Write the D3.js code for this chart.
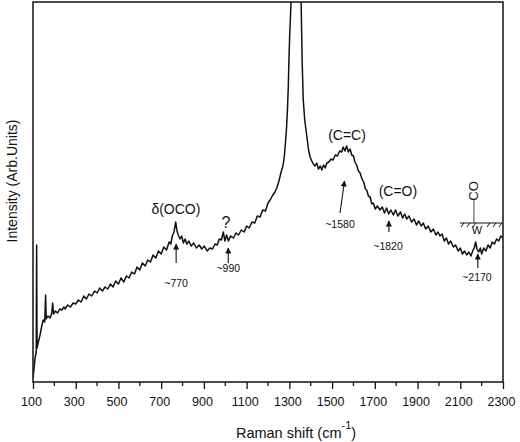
<!DOCTYPE html>
<html>
<head>
<meta charset="utf-8">
<script src="https://cdn.jsdelivr.net/npm/d3@7"></script>
<style>
  body { margin: 0; background: #fff; }
  text { font-family: "Liberation Sans", Arial, sans-serif; fill: #111; }
</style>
</head>
<body>
<div id="chart"></div>
<script>
// raman shift (cm-1) and intensity (arb. units)
var shift = [100,104,110,115,117,119,125,133,140,148,155,159,162,170,180,188,192,196,205,215,225,235,245,
  250,262,275,288,300,312,325,338,350,362,375,388,400,412,425,437,450,462,475,487,500,512,525,537,550,562,575,
  587,600,612,625,637,650,662,675,687,700,712,725,737,745,752,760,768,774,780,788,796,804,812,820,830,840,852,
  865,878,890,902,915,928,940,952,962,972,982,991,998,1006,1015,1025,1038,1050,1062,1075,1088,1100,1112,1125,
  1138,1150,1163,1175,1188,1200,1210,1220,1232,1241,1250,1258,1264,1270,1276,1282,1287,1291,1295,1298,1302,
  1308,1320,1331,1342,1355,1360,1365,1372,1381,1390,1397,1405,1412,1420,1428,1436,1445,1452,1460,1468,1475,
  1485,1495,1505,1515,1525,1535,1545,1552,1560,1568,1576,1584,1592,1600,1607,1615,1623,1631,1640,1648,1656,
  1662,1670,1678,1686,1693,1702,1712,1724,1735,1745,1755,1765,1775,1787,1797,1808,1820,1830,1840,1849,1860,
  1872,1884,1895,1906,1917,1927,1938,1950,1962,1974,1986,1996,2005,2015,2025,2035,2045,2055,2068,2078,2090,
  2100,2110,2120,2130,2140,2150,2158,2165,2172,2178,2186,2194,2200,2210,2220,2230,2240,2250,2260,2270,2280,
  2290,2300];
var intensity = [4,12,24,30,137,34,40,47,55,62,60,87,63,66,64,69,79,68,71,69,73,72,75,
  73,77,75,79,78,82,80,86,83,88,86,91,89,94,91,95,93,98,95,101,98,104,100,106,104,110,108,
  115,112,119,116,122,120,127,124,131,128,135,132,140,138,146,150,160,151,147,143,146,139,143,138,141,136,139,
  134,137,133,136,131,134,133,138,137,143,142,150,141,147,141,146,144,149,147,152,150,156,154,160,
  159,166,165,172,171,179,182,186,190,194,200,207,212,216,225,240,255,272,295,322,350,
  380,470,540,470,380,320,282,262,247,232,225,221,218,216,219,213,216,212,217,214,219,
  220,223,222,227,226,231,230,235,231,236,230,233,227,226,220,217,211,209,203,200,193,
  192,186,185,178,179,173,176,172,175,169,174,168,172,167,172,166,170,164,168,163,166,
  160,163,157,161,156,159,153,156,150,153,147,150,146,148,141,144,138,141,135,137,131,
  134,128,131,127,130,126,131,134,140,133,130,134,128,134,131,137,134,140,138,143,141,
  146,144];

var xTicks = [100,300,500,700,900,1100,1300,1500,1700,1900,2100,2300];
var xMinor = [200,400,600,800,1000,1200,1400,1600,1800,2000,2200];

// band labels: [label, shift, intensity]
var bandNames = [['\u03B4(OCO)', 769, 168], ['?', 1003, 154], ['(C=C)', 1570, 242], ['(C=O)', 1808, 186]];
var peakLabels = [['~770', 770, 95], ['~990', 1014, 110], ['~1580', 1537, 154], ['~1820', 1762, 132], ['~2170', 2178, 101]];
// arrows: [shift tail, int tail, shift tip, int tip]
var arrows = [[770,119,770,138], [1014,119,1014,134], [1537,169,1558,201], [1766,150,1766,161], [2182,114,2182,128]];

const width = 520;
const height = 442;
const mLeft = 33, mRight = 503, mTop = 2, mBottom = 382;

var svg = d3.select('#chart').append('svg')
    .attr('width', width)
    .attr('height', height);

var x = d3.scaleLinear().domain([100, 2300]).range([mLeft, mRight]);
var y = d3.scaleLinear().domain([0, 380]).range([mBottom, mTop]);

var defs = svg.append('defs');
defs.append('clipPath').attr('id', 'plotclip')
  .append('rect')
    .attr('x', mLeft).attr('y', mTop)
    .attr('width', mRight - mLeft).attr('height', mBottom - mTop);

defs.append('marker')
    .attr('id', 'head')
    .attr('viewBox', '0 0 10 10')
    .attr('refX', 9).attr('refY', 5)
    .attr('markerWidth', 7).attr('markerHeight', 6)
    .attr('markerUnits', 'userSpaceOnUse')
    .attr('orient', 'auto')
  .append('path')
    .attr('d', 'M0,0 L10,5 L0,10 Z')
    .attr('fill', '#111');

// spectrum
var pts = shift.map((s, i) => [s, intensity[i]]);
svg.append('path')
    .datum(pts)
    .attr('clip-path', 'url(#plotclip)')
    .attr('fill', 'none')
    .attr('stroke', '#111')
    .attr('stroke-width', 1.5)
    .attr('stroke-linejoin', 'round')
    .attr('d', d3.line().x(d => x(d[0])).y(d => y(d[1])));

// frame
svg.append('rect')
    .attr('x', mLeft).attr('y', mTop)
    .attr('width', mRight - mLeft).attr('height', mBottom - mTop)
    .attr('fill', 'none').attr('stroke', '#111').attr('stroke-width', 1.5);

// x axis
var xAxis = svg.append('g')
    .attr('transform', `translate(0,${mBottom})`)
    .call(d3.axisBottom(x).tickValues(xTicks).tickSize(7).tickSizeOuter(0).tickFormat(d3.format('d')));
xAxis.select('.domain').remove();
xAxis.selectAll('line').attr('stroke', '#111').attr('stroke-width', 1.3);
xAxis.selectAll('text')
    .attr('y', 15)
    .attr('dx', -2)
    .style('font-size', '12.5px')
    .style('font-family', '"Liberation Sans", Arial, sans-serif')
    .attr('fill', '#111');

svg.append('g').selectAll('line')
    .data(xMinor)
    .enter().append('line')
    .attr('x1', d => x(d)).attr('x2', d => x(d))
    .attr('y1', mBottom).attr('y2', mBottom + 4)
    .attr('stroke', '#111').attr('stroke-width', 1.3);

// axis titles
var xt = svg.append('text')
    .attr('x', 296).attr('y', 438)
    .attr('text-anchor', 'middle')
    .style('font-size', '14.5px');
xt.append('tspan').text('Raman shift (cm');
xt.append('tspan').attr('dy', -9).style('font-size', '11px').text('-1');
xt.append('tspan').attr('dy', 9).text(')');

svg.append('text')
    .attr('transform', `translate(17,181) rotate(-90)`)
    .attr('text-anchor', 'middle')
    .style('font-size', '14px')
    .text('Intensity (Arb.Units)');

// band names
svg.selectAll('.band')
    .data(bandNames)
    .enter().append('text')
    .attr('class', 'band')
    .attr('x', d => x(d[1]))
    .attr('y', d => y(d[2]))
    .attr('text-anchor', 'middle')
    .style('font-size', d => d[0] === '?' ? '16px' : '14px')
    .text(d => d[0]);

// peak positions
svg.selectAll('.peak')
    .data(peakLabels)
    .enter().append('text')
    .attr('class', 'peak')
    .attr('x', d => x(d[1]))
    .attr('y', d => y(d[2]))
    .attr('text-anchor', 'middle')
    .style('font-size', '10.5px')
    .text(d => d[0]);

svg.selectAll('.arrow')
    .data(arrows)
    .enter().append('line')
    .attr('class', 'arrow')
    .attr('x1', d => x(d[0])).attr('y1', d => y(d[1]))
    .attr('x2', d => x(d[2])).attr('y2', d => y(d[3]))
    .attr('stroke', '#111').attr('stroke-width', 1.1)
    .attr('marker-end', 'url(#head)');

// CO adsorbed on surface sketch near 2170
var coX = x(2164), surfY = y(159);
var co = svg.append('g');
co.append('text')
    .attr('transform', `translate(${coX + 4.5},${surfY - 32}) rotate(-90)`)
    .attr('text-anchor', 'middle')
    .style('font-size', '13px')
    .text('CO');
co.append('line')
    .attr('x1', coX).attr('x2', coX)
    .attr('y1', surfY - 23).attr('y2', surfY)
    .attr('stroke', '#444').attr('stroke-width', 1);
co.append('line')
    .attr('x1', coX - 14).attr('x2', coX + 28)
    .attr('y1', surfY).attr('y2', surfY)
    .attr('stroke', '#111').attr('stroke-width', 1);
co.selectAll('.hatch')
    .data([-13, -7, -1, 13, 19, 25])
    .enter().append('line')
    .attr('x1', d => coX + d).attr('y1', surfY + 4)
    .attr('x2', d => coX + d + 3).attr('y2', surfY)
    .attr('stroke', '#111').attr('stroke-width', 1);
co.append('text')
    .attr('x', coX + 3).attr('y', surfY + 11)
    .attr('text-anchor', 'middle')
    .style('font-size', '11px')
    .text('W');
</script>
</body>
</html>
